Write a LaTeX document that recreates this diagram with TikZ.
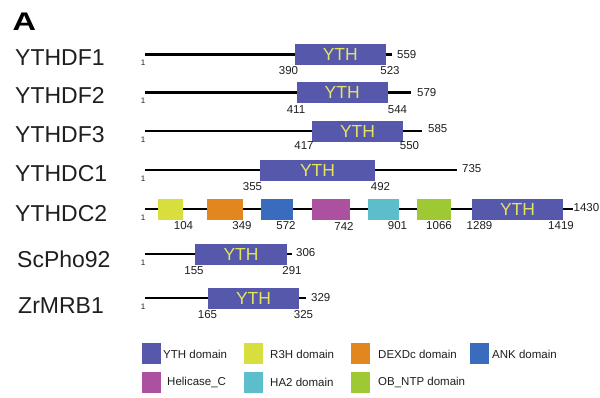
\documentclass[tikz,border=0pt]{standalone}
\usepackage{fontspec}
\setmainfont{Liberation Sans}
\definecolor{cyth}{RGB}{86,88,172}
\definecolor{cr3h}{RGB}{216,222,62}
\definecolor{cdex}{RGB}{226,134,32}
\definecolor{cank}{RGB}{58,108,190}
\definecolor{chel}{RGB}{172,80,160}
\definecolor{cha2}{RGB}{92,190,202}
\definecolor{cob}{RGB}{158,200,52}
\definecolor{cyt}{RGB}{228,228,96}
\definecolor{txt}{RGB}{30,30,30}
\tikzset{
  prot/.style={font=\fontsize{23}{23}\selectfont, anchor=base west, inner sep=0pt, text=txt},
  bb/.style={line width=2.6pt, black},
  dom/.style={rectangle, draw=none, inner sep=0pt, minimum height=21pt},
  ythbox/.style={dom, fill=cyth, text=cyt, font=\fontsize{17.5}{17.5}\selectfont},
  num/.style={font=\fontsize{11.5}{11.5}\selectfont, inner sep=0pt, text=txt},
  one/.style={font=\fontsize{8}{8}\selectfont, inner sep=0pt, text=txt},
  sq/.style={rectangle, draw=none, minimum width=19pt, minimum height=21pt, inner sep=0pt},
  leg/.style={font=\fontsize{11.5}{11.5}\selectfont, anchor=west, inner sep=0pt, text=txt},
}
\begin{document}
\begin{tikzpicture}[x=1pt,y=-1pt]
\useasboundingbox (0,0) rectangle (600,397);
\node[font=\fontsize{25}{25}\selectfont\bfseries, inner sep=0pt, anchor=base west] (A) at (12.5,30.5) {\scalebox{1.3}[1.02]{A}};

% Row 1 YTHDF1
\node[prot] (p1) at (15,65) {YTHDF1};
\coordinate (s1) at (145,54.5); \coordinate (e1) at (392,54.5);
\draw[bb] (s1) -- (e1);
\node[ythbox, minimum width=91.5pt] (y1) at (340.25,54.5) {YTH};
\node[one] (o1) at (143,63) {1};
\node[num, anchor=west] (t1) at (397,54.5) {559};
\node[num] (a1) at (288.5,71) {390};
\node[num] (b1) at (390,71) {523};

% Row 2 YTHDF2
\node[prot] (p2) at (15,103) {YTHDF2};
\coordinate (s2) at (145,92.7); \coordinate (e2) at (410.7,92.7);
\draw[bb] (s2) -- (e2);
\node[ythbox, minimum width=91pt] (y2) at (342.2,92.7) {YTH};
\node[one] (o2) at (143,101) {1};
\node[num, anchor=west] (t2) at (417,92.7) {579};
\node[num] (a2) at (296,110) {411};
\node[num] (b2) at (397.5,110) {544};

% Row 3 YTHDF3
\node[prot] (p3) at (15,142) {YTHDF3};
\coordinate (s3) at (145,131); \coordinate (e3) at (422,131);
\draw[bb] (s3) -- (e3);
\node[ythbox, minimum width=91pt] (y3) at (357.5,131) {YTH};
\node[one] (o3) at (143,139.5) {1};
\node[num, anchor=west] (t3) at (428,129) {585};
\node[num] (a3) at (304,146) {417};
\node[num] (b3) at (409.5,146) {550};

% Row 4 YTHDC1
\node[prot] (p4) at (15,181.5) {YTHDC1};
\coordinate (s4) at (145,170); \coordinate (e4) at (457,170);
\draw[bb] (s4) -- (e4);
\node[ythbox, minimum width=115pt] (y4) at (317.5,170) {YTH};
\node[one] (o4) at (143,178.5) {1};
\node[num, anchor=west] (t4) at (462,169) {735};
\node[num] (a4) at (252.5,187) {355};
\node[num] (b4) at (380.5,187) {492};

% Row 5 YTHDC2
\node[prot] (p5) at (15,221.5) {YTHDC2};
\coordinate (s5) at (145,209); \coordinate (e5) at (573,209);
\draw[bb] (s5) -- (e5);
\node[dom, fill=cr3h, minimum width=25pt] (d1) at (170.5,209) {};
\node[dom, fill=cdex, minimum width=36pt] (d2) at (225,209) {};
\node[dom, fill=cank, minimum width=32pt] (d3) at (277,209) {};
\node[dom, fill=chel, minimum width=38pt] (d4) at (331,209) {};
\node[dom, fill=cha2, minimum width=31pt] (d5) at (383.5,209) {};
\node[dom, fill=cob, minimum width=34pt] (d6) at (434,209) {};
\node[ythbox, minimum width=91pt] (y5) at (517.5,209) {YTH};
\node[one] (o5) at (143,218) {1};
\node[num, anchor=west, inner xsep=0.5pt] (t5) at (573,207.5) {1430};
\node[num] (n1) at (183.5,226) {104};
\node[num] (n2) at (242,226) {349};
\node[num] (n3) at (286,226) {572};
\node[num] (n4) at (344,226) {742};
\node[num] (n5) at (397.5,226) {901};
\node[num] (n6) at (439,226) {1066};
\node[num] (n7) at (479.5,226) {1289};
\node[num] (n8) at (561,226) {1419};

% Row 6 ScPho92
\node[prot] (p6) at (17,267) {ScPho92};
\coordinate (s6) at (145,254); \coordinate (e6) at (292,254);
\draw[bb] (s6) -- (e6);
\node[ythbox, minimum width=92pt] (y6) at (241,254) {YTH};
\node[one] (o6) at (143,262.5) {1};
\node[num, anchor=west] (t6) at (296,253) {306};
\node[num] (a6) at (194,271) {155};
\node[num] (b6) at (292,271) {291};

% Row 7 ZrMRB1
\node[prot] (p7) at (18,313) {ZrMRB1};
\coordinate (s7) at (145,298); \coordinate (e7) at (306,298);
\draw[bb] (s7) -- (e7);
\node[ythbox, minimum width=91pt] (y7) at (253.5,298) {YTH};
\node[one] (o7) at (143,306.5) {1};
\node[num, anchor=west] (t7) at (311,298) {329};
\node[num] (a7) at (207.5,315) {165};
\node[num] (b7) at (303.5,315) {325};

% Legend
\node[sq, fill=cyth] (l1) at (151.5,353.5) {};
\node[leg] (lt1) at (163,354) {YTH domain};
\node[sq, fill=cr3h] (l2) at (253,353.5) {};
\node[leg] (lt2) at (270,354) {R3H domain};
\node[sq, fill=cdex] (l3) at (360,353.5) {};
\node[leg] (lt3) at (378,354) {DEXDc domain};
\node[sq, fill=cank] (l4) at (479,353.5) {};
\node[leg] (lt4) at (492,354) {ANK domain};
\node[sq, fill=chel] (l5) at (151.5,382.5) {};
\node[leg] (lt5) at (167,382) {Helicase\_C};
\node[sq, fill=cha2] (l6) at (253,382.5) {};
\node[leg] (lt6) at (270,382) {HA2 domain};
\node[sq, fill=cob] (l7) at (360,382.5) {};
\node[leg] (lt7) at (378,382) {OB\_NTP domain};
\end{tikzpicture}
\end{document}
